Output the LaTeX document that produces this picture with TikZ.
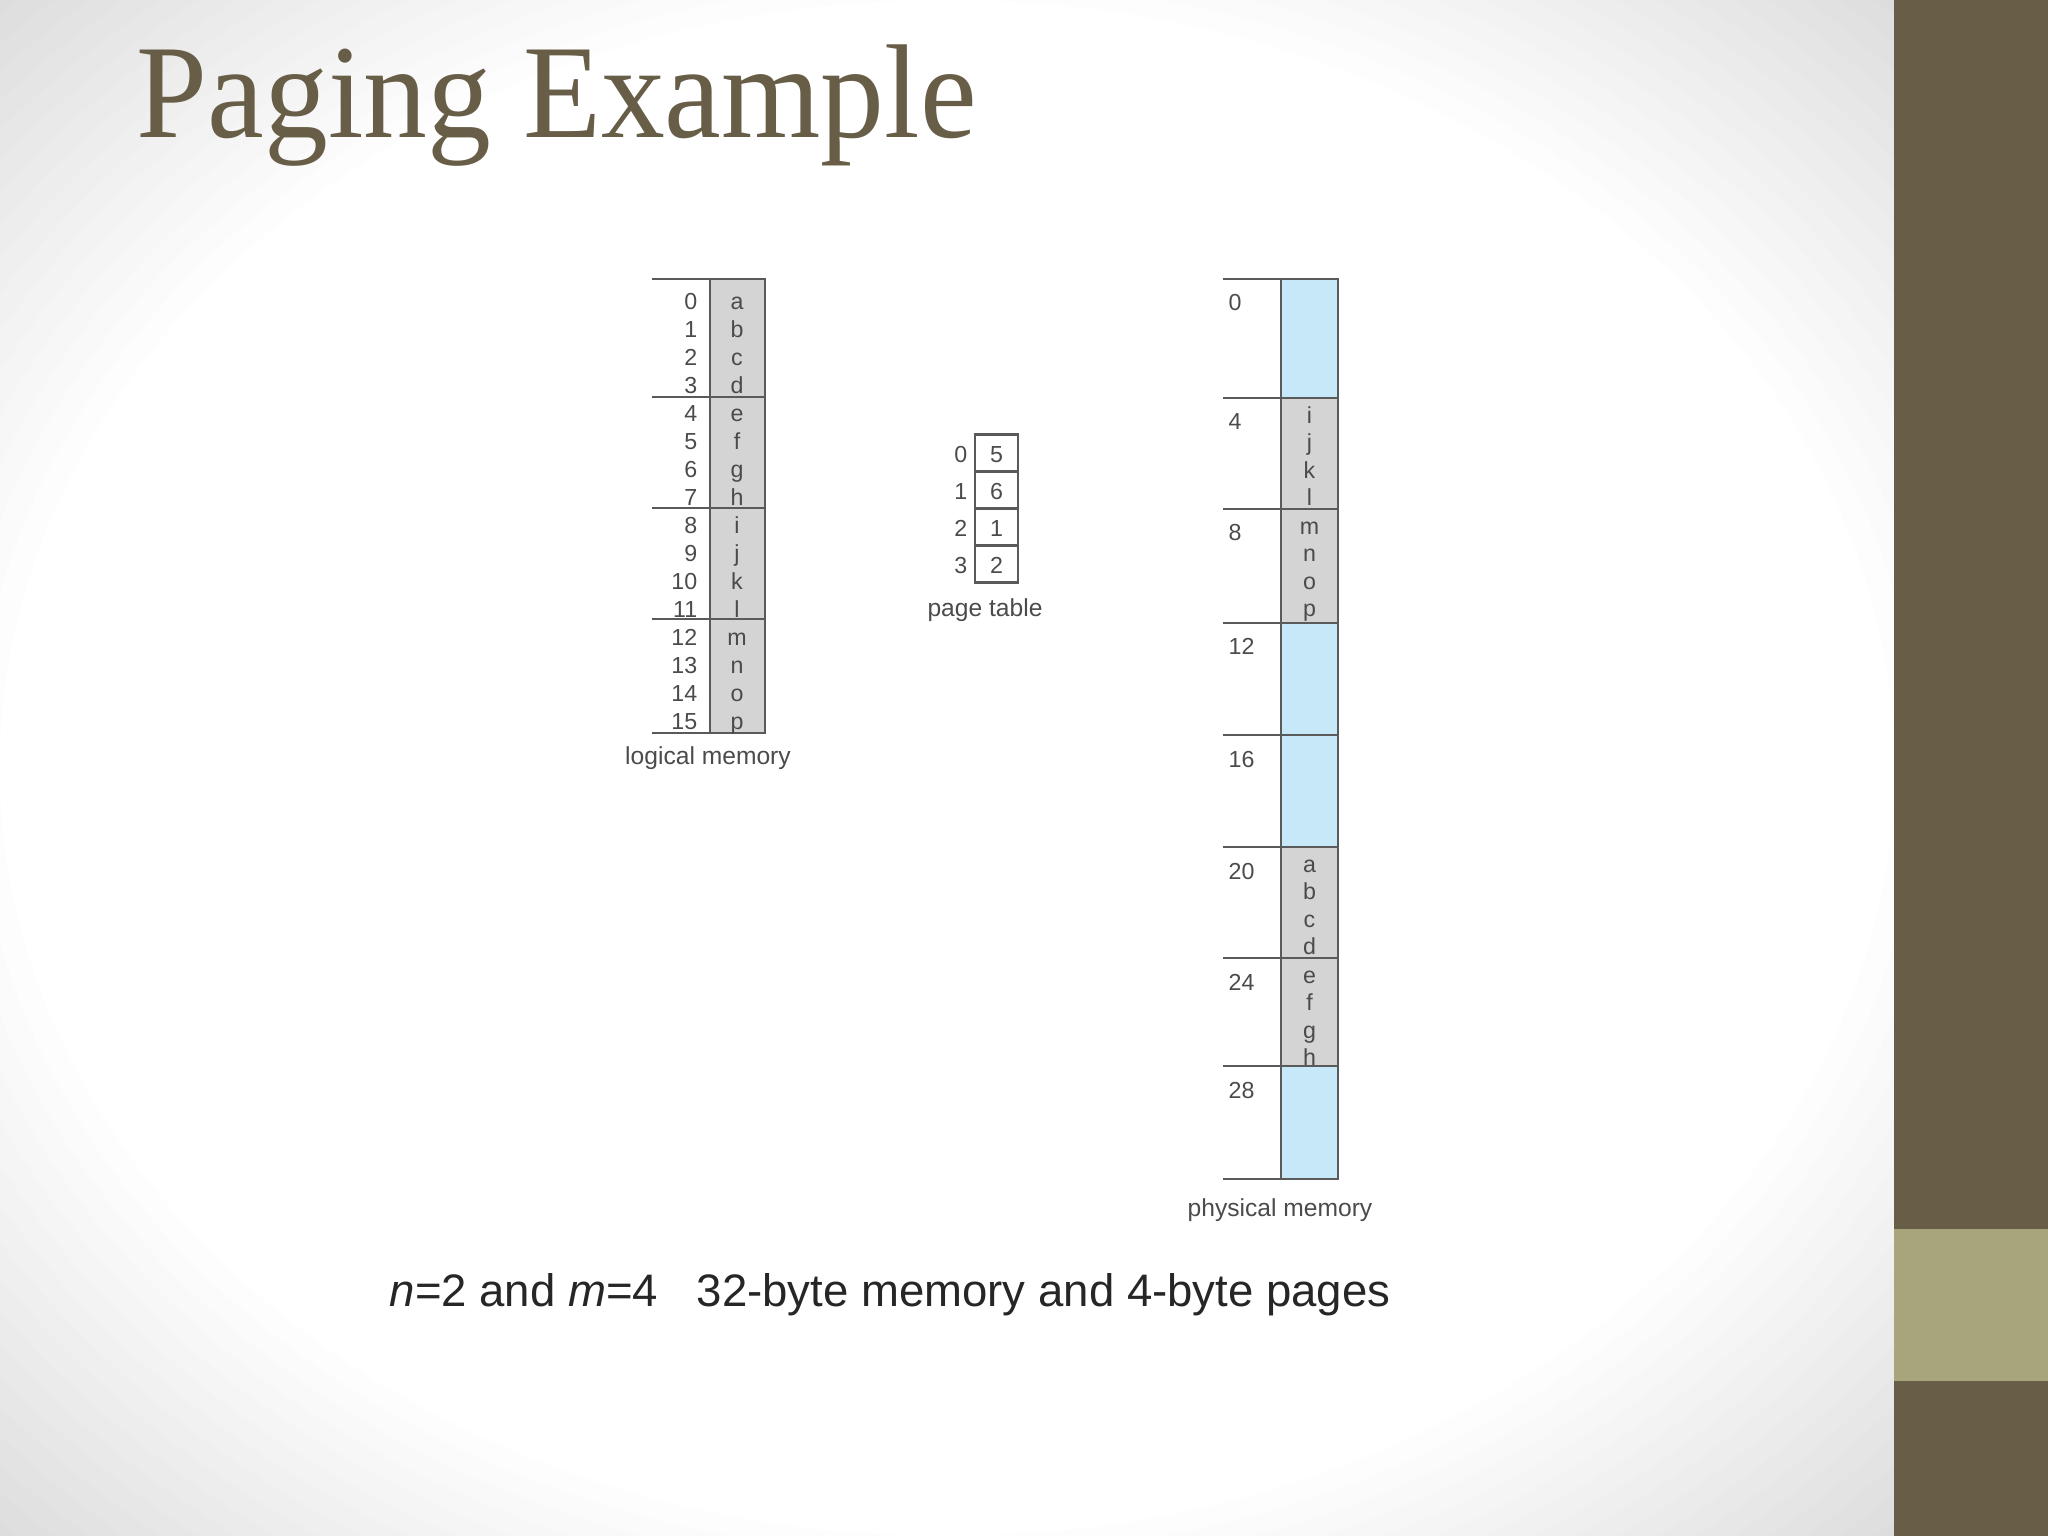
\documentclass[tikz,border=0pt]{standalone}
\usepackage{fontspec}
\setmainfont{Liberation Serif}
\setsansfont{Liberation Sans}
\usetikzlibrary{positioning}

\definecolor{olivedark}{RGB}{104,94,72}
\definecolor{olivelight}{RGB}{168,164,124}
\definecolor{pagegray}{RGB}{212,212,212}
\definecolor{frameblue}{RGB}{198,232,248}
\definecolor{linegray}{RGB}{90,90,90}
\definecolor{textgray}{RGB}{75,75,75}

\tikzset{
  memcell/.style={draw=linegray, line width=0.6pt, inner sep=0pt, outer sep=0pt},
  sepline/.style={draw=linegray, line width=0.6pt},
  smalltext/.style={inner sep=0pt, text=textgray, font=\sffamily\fontsize{6.6}{7}\selectfont,
    text height=0.72em, text depth=0.2em},
  tablelabel/.style={smalltext, font=\sffamily\fontsize{7}{8}\selectfont}
}

\begin{document}
\begin{tikzpicture}[x=0.01cm, y=-0.01cm]
  \useasboundingbox (0,0) rectangle (2048,1536);

  % slide background: light grey towards the corners, and side bar
  \foreach \r in {1.000,1.025,...,1.40}
    \fill[black, opacity=0.0065, even odd rule] (0,0) rectangle (1894,1536)
      (947,768) ellipse [x radius={947*\r}, y radius={768*\r}];
  \fill[olivedark] (1894,0) rectangle (2048,1536);
  \fill[olivelight] (1894,1229) rectangle (2048,1381);

  \node[anchor=base west, inner sep=0pt, text=olivedark,
        font=\fontsize{38}{40}\selectfont] (title) at (136,137) {\scalebox{0.955}[1]{Paging Example}};

  % logical memory
  \begin{scope}[every node/.style={memcell, fill=pagegray, minimum width=0.55cm}]
    \node[minimum height=1.18cm] (lp0) at (737.5,338) {};
    \node[minimum height=1.11cm] (lp1) at (737.5,452.5) {};
    \node[minimum height=1.11cm] (lp2) at (737.5,563.5) {};
    \node[minimum height=1.14cm] (lp3) at (737.5,676) {};
  \end{scope}
  \foreach \p in {lp0,lp1,lp2,lp3}
    \draw[sepline] (\p.north west) -- ++(-58,0);
  \draw[sepline] (lp3.south west) -- ++(-58,0);
  \foreach \c [count=\j from 0] in {a,...,p} {
    \node[smalltext] (lc\j) at (737,{300+28*\j}) {\c};
    \node[smalltext, anchor=east] (la\j) at (698,{300+28*\j}) {\j};
  }
  \node[tablelabel] (logical) at (708,755) {logical memory};

  % page table
  \begin{scope}[every node/.style={memcell, smalltext, fill=white, minimum width=0.43cm, minimum height=0.37cm}]
    \node (pt0) at (996.5,453) {5};
    \node (pt1) at (996.5,490) {6};
    \node (pt2) at (996.5,527) {1};
    \node (pt3) at (996.5,564) {2};
  \end{scope}
  \foreach \k in {0,...,3}
    \node[smalltext, left=0.07cm of pt\k] (pi\k) {\k};
  \node[tablelabel] (pagetable) at (985,607) {page table};

  % physical memory
  \begin{scope}[every node/.style={memcell, minimum width=0.57cm}]
    \node[fill=frameblue, minimum height=1.19cm] (fr0) at (1309.5,338.5) {};
    \node[fill=pagegray,  minimum height=1.11cm] (fr1) at (1309.5,453.5) {};
    \node[fill=pagegray,  minimum height=1.14cm] (fr2) at (1309.5,566) {};
    \node[fill=frameblue, minimum height=1.12cm] (fr3) at (1309.5,679) {};
    \node[fill=frameblue, minimum height=1.12cm] (fr4) at (1309.5,791) {};
    \node[fill=pagegray,  minimum height=1.11cm] (fr5) at (1309.5,902.5) {};
    \node[fill=pagegray,  minimum height=1.08cm] (fr6) at (1309.5,1012) {};
    \node[fill=frameblue, minimum height=1.13cm] (fr7) at (1309.5,1122.5) {};
  \end{scope}
  \foreach \f [evaluate=\f as \addr using int(4*\f)] in {0,...,7} {
    \draw[sepline] (fr\f.north west) -- ++(-58,0);
    \node[smalltext, anchor=base west] (fa\f) at ([xshift=-0.53cm, yshift=-0.32cm] fr\f.north west) {\addr};
  }
  \draw[sepline] (fr7.south west) -- ++(-58,0);
  \foreach \f/\letters in {1/{i,j,k,l}, 2/{m,n,o,p}, 5/{a,b,c,d}, 6/{e,f,g,h}}
    \foreach \c [count=\k from 0] in \letters
      \node[smalltext] (fc\f\k) at ([yshift={-0.16cm-0.275cm*\k}] fr\f.north) {\c};
  \node[tablelabel] (physical) at (1280,1207) {physical memory};

  \node[anchor=base west, inner sep=0pt, text=black!85,
        font=\sffamily\fontsize{12.95}{15}\selectfont] (caption) at (389,1306)
        {\textit{n}=2 and \textit{m}=4\hspace{0.85em}32-byte memory and 4-byte pages};
\end{tikzpicture}
\end{document}
